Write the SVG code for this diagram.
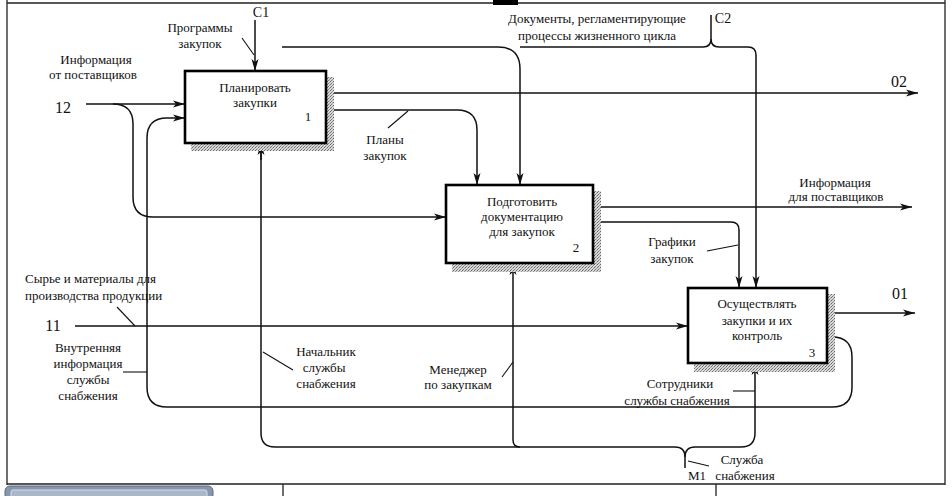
<svg xmlns="http://www.w3.org/2000/svg" width="952" height="496" viewBox="0 0 952 496">
<defs>
<style>
.t{font-family:"Liberation Serif","DejaVu Serif","Noto Serif",serif;font-size:13px;fill:#111;text-anchor:middle}
.n{font-family:"Liberation Serif","DejaVu Serif",serif;font-size:16px;fill:#111;text-anchor:middle}
.c{fill:none;stroke:#111;stroke-width:1.5}
.a{fill:none;stroke:#111;stroke-width:1.5;marker-end:url(#ah)}
.l{fill:none;stroke:#111;stroke-width:1.1}
.box{fill:#fff;stroke:#000;stroke-width:2.6}
.sh{fill:url(#dots)}
.fr{fill:none;stroke:#222;stroke-width:1.3}
</style>
<marker id="ah" viewBox="0 0 12 8" refX="12" refY="4" markerWidth="12" markerHeight="8" markerUnits="userSpaceOnUse" orient="auto">
<path d="M0,0.5 L12,4 L0,7.5 L3,4 Z" fill="#111"/>
</marker>
<pattern id="dots" width="3" height="3" patternUnits="userSpaceOnUse">
<rect width="3" height="3" fill="#d8d8d8"/>
<rect x="0" y="0" width="1" height="1" fill="#666"/>
<rect x="2" y="1" width="1" height="1" fill="#999"/>
<rect x="1" y="2" width="1" height="1" fill="#777"/>
</pattern>
</defs>
<rect width="952" height="496" fill="#fff"/>
<g id="frame">
<path class="fr" d="M7,3 H945 M7,0 V485 M945,0 V485 M7,484 H945 M283,484 V496 M716,484 V496"/>
<rect x="493" y="0" width="25" height="5" fill="#000"/>
<rect x="5" y="486" width="208" height="14" rx="5" fill="#8797ad" stroke="#5d6b80" stroke-width="1"/>
<rect x="11" y="490" width="196" height="10" rx="2" fill="#a9b7c9" stroke="#d6dee8" stroke-width="1"/>
</g>
<g id="connectors">
<path class="a" d="M255,20 V71"/>
<path class="l" d="M242,38 L254,55"/>
<path class="a" d="M86,104 H185"/>
<path class="a" d="M113,104 Q133,104 133,124 V197 Q133,217 153,217 H446"/>
<path class="a" d="M827,337 H832 Q852,337 852,357 V387 Q852,407 832,407 H167 Q147,407 147,387 V138 Q147,118 167,118 H185"/>
<path class="l" d="M123,372 H147"/>
<path class="a" d="M75,326 H688"/>
<path class="l" d="M117,307 L135,326"/>
<path class="a" d="M326,93 H918"/>
<path class="a" d="M326,110 H457 Q477,110 477,130 V185"/>
<path class="l" d="M408,111 L388,128"/>
<path class="a" d="M282,47 H498 Q520,47 520,69 V185"/>
<path class="c" d="M711,15 V39 Q711,47 703,47 H520"/>
<path class="a" d="M711,39 Q711,47 719,47 H748 Q756,47 756,55 V288"/>
<path class="a" d="M593,207 H912"/>
<path class="a" d="M593,222 H731 Q739,222 739,230 V288"/>
<path class="l" d="M707,251 L738,245"/>
<path class="a" d="M827,313 H915"/>
<path class="c" d="M685,468 V457 Q685,447 675,447 H275 Q261,447 261,433 V150"/>
<path class="a" d="M261,160 V143"/>
<path class="a" d="M685,457 Q685,447 695,447 H741 Q755,447 755,433 V363"/>
<path class="a" d="M520,447 Q513,447 513,440 V263"/>
<path class="l" d="M688,461 L709,466"/>
<path class="l" d="M263,352 L293,370"/>
<path class="l" d="M502,377 L513,362"/>
<path class="l" d="M733,391 H755"/>
</g>
<g id="node1">
<rect class="sh" x="326" y="77" width="8" height="74"/>
<rect class="sh" x="191" y="143" width="135" height="8"/>
<rect class="box" x="185" y="71" width="141" height="72"/>
<text class="t" x="255" y="92">Планировать</text>
<text class="t" x="255" y="107">закупки</text>
<text class="t" x="308" y="121">1</text>
</g>
<g id="node2">
<rect class="sh" x="593" y="191" width="8" height="81"/>
<rect class="sh" x="452" y="263" width="141" height="9"/>
<rect class="box" x="446" y="185" width="147" height="78"/>
<text class="t" x="522" y="206">Подготовить</text>
<text class="t" x="522" y="221">документацию</text>
<text class="t" x="522" y="236">для закупок</text>
<text class="t" x="576" y="252">2</text>
</g>
<g id="node3">
<rect class="sh" x="827" y="294" width="8" height="78"/>
<rect class="sh" x="694" y="363" width="133" height="9"/>
<rect class="box" x="688" y="288" width="139" height="75"/>
<text class="t" x="757" y="308">Осуществлять</text>
<text class="t" x="757" y="325">закупки и их</text>
<text class="t" x="757" y="340">контроль</text>
<text class="t" x="812" y="357">3</text>
</g>
<g id="labels">
<text class="t" x="261" y="17" style="font-size:14px">C1</text>
<text class="t" x="200" y="32">Программы</text>
<text class="t" x="200" y="48">закупок</text>
<text class="t" x="96" y="64">Информация</text>
<text class="t" x="93" y="79">от поставщиков</text>
<text class="n" x="63" y="113">12</text>
<text class="t" x="597" y="23">Документы, регламентирующие</text>
<text class="t" x="597" y="40">процессы жизненного цикла</text>
<text class="t" x="723" y="23" style="font-size:14px">C2</text>
<text class="n" x="899" y="87">02</text>
<text class="t" x="385" y="144">Планы</text>
<text class="t" x="385" y="160">закупок</text>
<text class="t" x="835" y="187">Информация</text>
<text class="t" x="836" y="201">для поставщиков</text>
<text class="t" x="672" y="246">Графики</text>
<text class="t" x="672" y="263">закупок</text>
<text class="t" x="25" y="283" style="text-anchor:start">Сырье и материалы для</text>
<text class="t" x="25" y="300" style="text-anchor:start">производства продукции</text>
<text class="n" x="53" y="331">11</text>
<text class="n" x="900" y="299">01</text>
<text class="t" x="88" y="352">Внутренняя</text>
<text class="t" x="88" y="368">информация</text>
<text class="t" x="88" y="384">службы</text>
<text class="t" x="88" y="400">снабжения</text>
<text class="t" x="326" y="356">Начальник</text>
<text class="t" x="324" y="372">службы</text>
<text class="t" x="326" y="388">снабжения</text>
<text class="t" x="458" y="374">Менеджер</text>
<text class="t" x="458" y="389">по закупкам</text>
<text class="t" x="680" y="388">Сотрудники</text>
<text class="t" x="677" y="405">службы снабжения</text>
<text class="t" x="742" y="464">Служба</text>
<text class="t" x="745" y="480">снабжения</text>
<text class="t" x="697" y="480">M1</text>
</g>
</svg>
